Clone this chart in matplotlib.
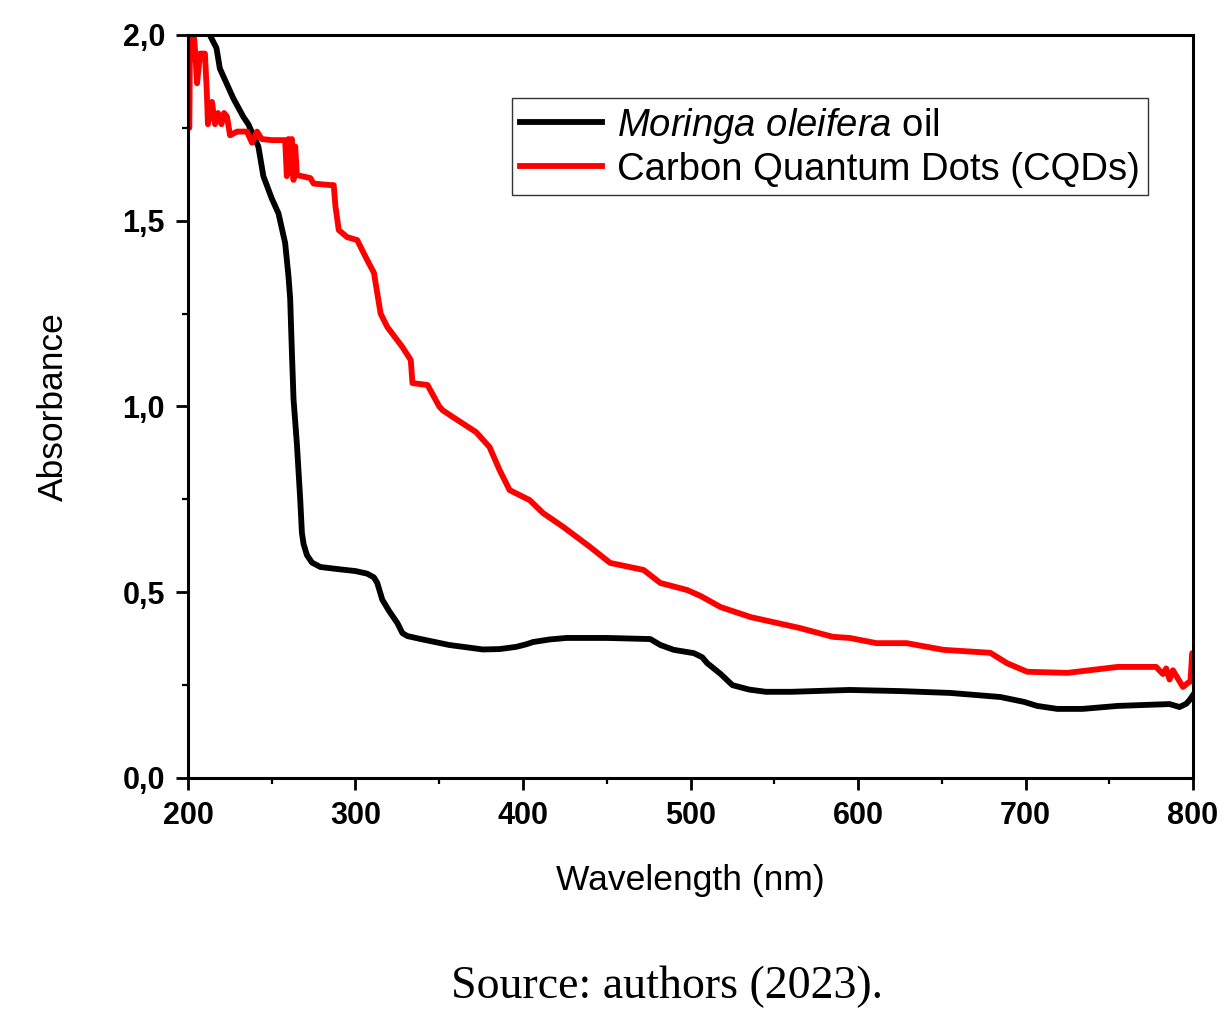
import matplotlib
matplotlib.use("Agg")
import matplotlib.pyplot as plt
from matplotlib.ticker import FixedLocator, MultipleLocator

plt.rcParams['font.family'] = ['Liberation Sans', 'DejaVu Sans']
plt.rcParams['mathtext.fontset'] = 'custom'
plt.rcParams['mathtext.it'] = 'Liberation Sans:italic'
plt.rcParams['mathtext.rm'] = 'Liberation Sans'

# Moringa oleifera oil
oil_wl = [210, 213, 217, 219, 223, 227, 233, 236, 239, 242, 245, 250, 254, 258,
          260, 261, 262, 263, 265, 267, 268, 269, 271, 274, 279, 290, 300, 307,
          311, 313, 316, 320, 325, 328, 331, 340, 356, 366, 376, 386, 396, 402,
          406, 416, 426, 450, 476, 482, 490, 502, 507, 510, 518, 525, 535, 545,
          560, 595, 625, 655, 685, 699, 707, 719, 734, 755, 786, 792, 796, 798, 800]
oil_abs = [2.06, 2.00, 1.965, 1.91, 1.87, 1.83, 1.78, 1.76, 1.73, 1.70, 1.62, 1.56,
           1.52, 1.44, 1.35, 1.29, 1.15, 1.02, 0.90, 0.75, 0.66, 0.63, 0.60, 0.58,
           0.568, 0.562, 0.557, 0.550, 0.54, 0.525, 0.48, 0.45, 0.417, 0.39, 0.382,
           0.373, 0.358, 0.352, 0.346, 0.347, 0.353, 0.36, 0.366, 0.373, 0.377,
           0.377, 0.374, 0.358, 0.345, 0.336, 0.325, 0.309, 0.28, 0.25, 0.238,
           0.232, 0.232, 0.237, 0.234, 0.229, 0.218, 0.205, 0.194, 0.186, 0.186,
           0.194, 0.199, 0.191, 0.20, 0.21, 0.223]

# Carbon Quantum Dots
cqd_wl = [200, 200.8, 201.3, 202.5, 204.2, 205.4, 207.2, 210.1, 211.2, 211.9, 214.3,
          216.1, 217.9, 220.0, 221.5, 223.3, 225.1, 229.3, 235.2, 238.2, 241.2,
          244, 250, 258, 259, 260, 261, 262, 263, 264, 265, 273, 275, 285, 287,
          288, 290, 295, 301, 307, 311, 315, 319, 328, 333, 334, 343, 350, 352,
          358, 372, 380, 386, 392, 404, 412, 424, 440, 452, 472, 482, 498, 506,
          518, 536, 565, 585, 595, 611, 629, 651, 679, 689, 701, 725, 755, 778,
          782, 784, 786, 788, 790, 794, 797, 798.5, 799.5, 800]
cqd_abs = [1.75, 1.75, 2.05, 2.05, 1.96, 1.87, 1.95, 1.95, 1.85, 1.76, 1.82,
           1.76, 1.79, 1.76, 1.79, 1.78, 1.73, 1.74, 1.74, 1.71, 1.74,
           1.72, 1.717, 1.717, 1.62, 1.72, 1.63, 1.72, 1.61, 1.70, 1.623, 1.615,
           1.60, 1.596, 1.596, 1.54, 1.475, 1.456, 1.448, 1.394, 1.36, 1.25, 1.214,
           1.16, 1.125, 1.063, 1.058, 1.0, 0.99, 0.972, 0.931, 0.891, 0.829, 0.775,
           0.748, 0.713, 0.676, 0.622, 0.579, 0.56, 0.525, 0.506, 0.49, 0.46,
           0.433, 0.404, 0.38, 0.377, 0.363, 0.363, 0.345, 0.337, 0.309, 0.286,
           0.283, 0.299, 0.299, 0.28, 0.295, 0.265, 0.29, 0.275, 0.245, 0.256,
           0.26, 0.336, 0.336]

y_ticks = [0.0, 0.5, 1.0, 1.5, 2.0]
y_labels = ['0,0', '0,5', '1,0', '1,5', '2,0']
x_ticks = [200, 300, 400, 500, 600, 700, 800]

fig = plt.figure(figsize=(12.24, 10.27), dpi=100)
ax = fig.add_axes([188 / 1224, 1 - 778 / 1027, (1193 - 188) / 1224, (778 - 35) / 1027])

ax.plot(oil_wl, oil_abs, color='black', lw=4.2, solid_joinstyle='round',
        label=r'$\it{Moringa\ oleifera}$ oil')
ax.plot(cqd_wl, cqd_abs, color='#ff0000', lw=4.2, solid_joinstyle='round',
        label='Carbon Quantum Dots (CQDs)')

ax.set_xlim(200, 800)
ax.set_ylim(0, 2.0)
ax.xaxis.set_major_locator(FixedLocator(x_ticks))
ax.xaxis.set_minor_locator(MultipleLocator(50))
ax.yaxis.set_major_locator(FixedLocator(y_ticks))
ax.yaxis.set_minor_locator(MultipleLocator(0.25))
ax.set_yticklabels(y_labels)

for s in ax.spines.values():
    s.set_linewidth(2.2)
ax.tick_params(which='major', direction='out', length=8.5, width=2.0,
               labelsize=22, pad=8)
ax.tick_params(which='minor', direction='out', length=4.5, width=1.6)
for lab in ax.get_xticklabels() + ax.get_yticklabels():
    lab.set_fontweight('bold')

ax.set_xlabel('Wavelength (nm)', fontsize=25.5, labelpad=24)
ax.set_ylabel('Absorbance', fontsize=25.5, labelpad=38)

leg = ax.legend(loc='upper right', bbox_to_anchor=(0.955, 0.915), fontsize=27.5,
                frameon=True, fancybox=False, handlelength=2.15,
                handletextpad=0.4, borderpad=0.2, labelspacing=0.15,
                borderaxespad=0)
leg.get_frame().set_edgecolor('black')
leg.get_frame().set_linewidth(1.0)
for h in leg.get_lines():
    h.set_linewidth(4.2)

fig.text(667 / 1224, 1 - 987 / 1027, 'Source: authors (2023).',
         family='Liberation Serif', fontsize=33, ha='center', va='center')

fig.savefig('out.png', dpi=100)
